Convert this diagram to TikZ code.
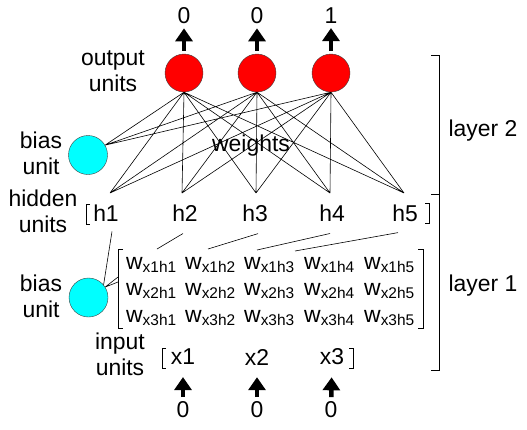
\documentclass[tikz,border=0pt]{standalone}
\usepackage{fontspec}
\setmainfont{Liberation Sans}
\usetikzlibrary{arrows.meta}
\definecolor{outred}{RGB}{255,0,0}
\definecolor{biascyan}{RGB}{0,255,255}
\newcommand{\wxh}[2]{w\raisebox{-3.5bp}{\fontsize{15.5}{16}\selectfont x#1h#2}}
\begin{document}
\begin{tikzpicture}[x=1bp,y=-1bp]
    \tikzstyle{every node}=[font=\fontsize{23}{26}\selectfont,inner sep=0pt];
    \tikzstyle{outunit}=[draw=black!75,fill=outred,shape=circle,minimum size=38bp];
    \tikzstyle{biasunit}=[draw=black!75,fill=biascyan,shape=circle,minimum size=39bp];
    \tikzstyle{bigarrow}=[line width=4.5bp,-{Triangle[width=17bp,length=13bp]}];
    \tikzstyle{weight}=[line width=0.6bp];
    \tikzstyle{bracket}=[line width=0.8bp];
    \useasboundingbox (0,0) rectangle (527,429);
    % output layer
    \node[outunit] (o1) at (184,73) {};
    \node[outunit] (o2) at (257,73) {};
    \node[outunit] (o3) at (331,73) {};
    \node (y1) at (184,16) {0};
    \node (y2) at (257,16) {0};
    \node (y3) at (331,16) {1};
    \node[align=center] (outtxt) at (113,71) {output\\units};
    \draw[bigarrow,shorten <=3bp,shorten >=4bp] (o1) -- (y1);
    \draw[bigarrow,shorten <=3bp,shorten >=4bp] (o2) -- (y2);
    \draw[bigarrow,shorten <=3bp,shorten >=4bp] (o3) -- (y3);
    % bias of layer 2
    \node[biasunit] (bt) at (88,155) {};
    \node[align=center] (bttxt) at (41,153) {bias\\unit};
    % hidden layer
    \coordinate (hc1) at (110,193);
    \coordinate (hc2) at (182,193);
    \coordinate (hc3) at (256,193);
    \coordinate (hc4) at (330,193);
    \coordinate (hc5) at (404,193);
    \node (hl1) at (106,213) {h1};
    \node (hl2) at (185,213) {h2};
    \node (hl3) at (255,213) {h3};
    \node (hl4) at (332,213) {h4};
    \node (hl5) at (405,213) {h5};
    \node[align=center] (hidtxt) at (43,211) {hidden\\units};
    \draw[bracket] (90,204) -- (86,204) -- (86,224) -- (90,224);
    \draw[bracket] (425,203) -- (429,203) -- (429,223) -- (425,223);
    \node (wtxt) at (251,146) {weights};
    \draw[weight] (o1.south) -- (hc1)
    (o1.south) -- (hc2)
    (o1.south) -- (hc3)
    (o1.south) -- (hc4)
    (o1.south) -- (hc5)
    (o2.south) -- (hc1)
    (o2.south) -- (hc2)
    (o2.south) -- (hc3)
    (o2.south) -- (hc4)
    (o2.south) -- (hc5)
    (o3.south) -- (hc1)
    (o3.south) -- (hc2)
    (o3.south) -- (hc3)
    (o3.south) -- (hc4)
    (o3.south) -- (hc5)
    (bt.30) -- (o1.south)
    (bt.30) -- (o2.south)
    (bt.30) -- (o3.south);
    % weight matrix of layer 1
    \node[anchor=base west] (w11) at (126,269) {\wxh{1}{1}};
    \node[anchor=base west] (w12) at (185,269) {\wxh{1}{2}};
    \node[anchor=base west] (w13) at (244,269) {\wxh{1}{3}};
    \node[anchor=base west] (w14) at (304,269) {\wxh{1}{4}};
    \node[anchor=base west] (w15) at (364,269) {\wxh{1}{5}};
    \node[anchor=base west] (w21) at (126,295) {\wxh{2}{1}};
    \node[anchor=base west] (w22) at (185,295) {\wxh{2}{2}};
    \node[anchor=base west] (w23) at (244,295) {\wxh{2}{3}};
    \node[anchor=base west] (w24) at (304,295) {\wxh{2}{4}};
    \node[anchor=base west] (w25) at (364,295) {\wxh{2}{5}};
    \node[anchor=base west] (w31) at (126,322) {\wxh{3}{1}};
    \node[anchor=base west] (w32) at (185,322) {\wxh{3}{2}};
    \node[anchor=base west] (w33) at (244,322) {\wxh{3}{3}};
    \node[anchor=base west] (w34) at (304,322) {\wxh{3}{4}};
    \node[anchor=base west] (w35) at (364,322) {\wxh{3}{5}};
    \draw[bracket] (123,249) -- (118,249) -- (118,328) -- (123,328);
    \draw[bracket] (418,249) -- (423,249) -- (423,328) -- (418,328);
    % bias of layer 1
    \node[biasunit] (bb) at (88.5,297.5) {};
    \node[align=center] (bbtxt) at (41,296) {bias\\unit};
    \coordinate (mb1) at (118,277);
    \coordinate (mb2) at (118,282);
    \coordinate (wc2) at (157,249);
    \coordinate (wc3) at (208,249);
    \coordinate (wc4) at (257,250);
    \coordinate (wc5) at (295,251);
    \draw[weight] ([xshift=6bp,yshift=-10bp]hl1.south) -- (bb.40)
    (bb.32) -- (mb1)
    (bb.32) -- (mb2)
    ([xshift=-2bp,yshift=-12bp]hl2.south) -- (wc2)
    ([xshift=3bp,yshift=-12bp]hl3.south) -- (wc3)
    ([xshift=-2bp,yshift=-12bp]hl4.south) -- (wc4)
    ([xshift=-7bp,yshift=-11bp]hl5.south) -- (wc5);
    % input layer
    \node (x1) at (183,357) {x1};
    \node (x2) at (257,357) {x2};
    \node (x3) at (332,357) {x3};
    \node[align=center] (intxt) at (120,354) {input\\units};
    \draw[bracket] (166,348) -- (162,348) -- (162,368) -- (166,368);
    \draw[bracket] (349,348) -- (353,348) -- (353,368) -- (349,368);
    \node (i1) at (183,410) {0};
    \node (i2) at (257,410) {0};
    \node (i3) at (331,410) {0};
    \draw[bigarrow,shorten <=4.5bp,shorten >=12bp] (i1) -- (x1);
    \draw[bigarrow,shorten <=4.5bp,shorten >=12bp] (i2) -- (x2);
    \draw[bigarrow,shorten <=4.5bp,shorten >=12bp] (i3) -- (x3);
    % layers
    \draw[bracket] (431,55) -- (439,55) -- (439,370) -- (431,370);
    \draw[bracket] (431,194) -- (439,194);
    \node (l2txt) at (483,131) {layer 2};
    \node (l1txt) at (483,286) {layer 1};
\end{tikzpicture}
\end{document}
